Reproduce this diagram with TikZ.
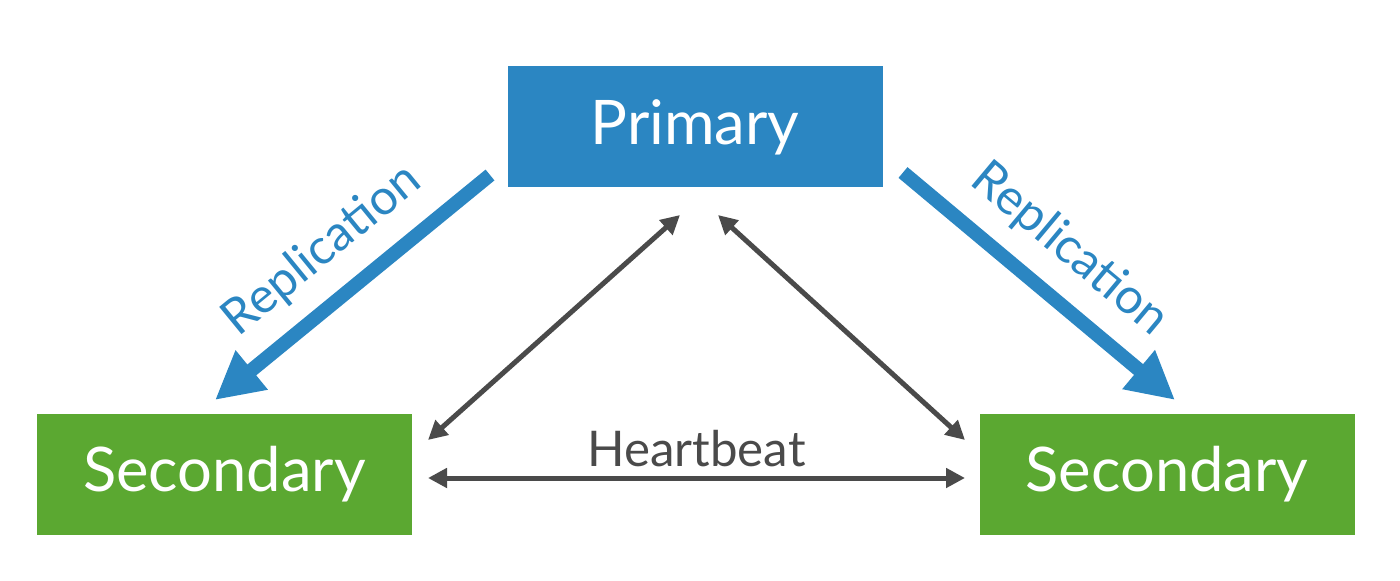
\documentclass[tikz,border=0pt]{standalone}
\usepackage{fontspec}
\setmainfont{Lato}
\usetikzlibrary{positioning,arrows.meta}
\definecolor{prim}{HTML}{2B86C2}
\definecolor{sec}{HTML}{5BA831}
\definecolor{hb}{HTML}{4A4A4A}
\begin{document}
\begin{tikzpicture}[
    box/.style={rectangle, minimum width=7.5cm, minimum height=2.42cm, text=white, font=\fontsize{35}{40}\selectfont},
    repl/.style={-{Triangle[length=0.95cm,width=0.95cm]}, line width=0.28cm, prim},
    beat/.style={{Triangle[length=0.38cm,width=0.38cm]}-{Triangle[length=0.38cm,width=0.38cm]}, line width=0.1cm, hb},
    lbl/.style={font=\fontsize{28}{32}\selectfont}
  ]
    \useasboundingbox (0,0) rectangle (28,11.6);

    \node[box, fill=prim] (primary) at (13.9,9.06) {Primary};
    \node[box, fill=sec] (secL) at (4.49,2.12) {Secondary};
    \node[box, fill=sec] (secR) at (23.34,2.12) {Secondary};

    % replication
    \coordinate (rlA) at (9.8,8.1);
    \coordinate (rlB) at (4.3,3.6);
    \coordinate (rrA) at (18.06,8.15);
    \coordinate (rrB) at (23.5,3.6);
    \draw[repl] (rlA) -- node[lbl, text=prim, sloped, above=0.25cm] {Replication} (rlB);
    \draw[repl] (rrA) -- node[lbl, text=prim, sloped, above=0.25cm] {Replication} (rrB);

    % heartbeat
    \coordinate (pL) at (13.6,7.3);
    \coordinate (pR) at (14.36,7.3);
    \coordinate (sLt) at (8.56,2.8);
    \coordinate (sRt) at (19.3,2.8);
    \coordinate (sLb) at (8.56,2.04);
    \coordinate (sRb) at (19.3,2.04);
    \draw[beat] (pL) -- (sLt);
    \draw[beat] (pR) -- (sRt);
    \draw[beat] (sLb) -- node[lbl, text=hb, above=0.05cm] {Heartbeat} (sRb);
\end{tikzpicture}
\end{document}
